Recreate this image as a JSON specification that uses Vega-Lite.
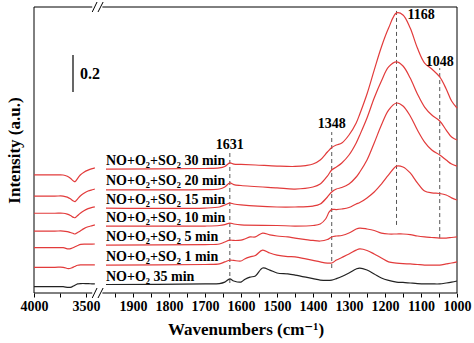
{
  "$schema": "https://vega.github.io/schema/vega-lite/v6.json",
  "width": 423,
  "height": 286,
  "autosize": {"type": "none"},
  "padding": {"left": 34, "top": 7, "right": 17, "bottom": 50},
  "background": "white",
  "config": {"view": {"stroke": null}, "font": "'Liberation Serif', 'DejaVu Serif', serif"},
  "datasets": {
    "frame": [
      {"wn": 4000, "wn2": 4000, "a": 0, "a2": 1.546},
      {"wn": 1000, "wn2": 1000, "a": 0, "a2": 1.546},
      {"wn": 4000, "wn2": 3440, "a": 0, "a2": 0},
      {"wn": 1985, "wn2": 1000, "a": 0, "a2": 0},
      {"wn": 4000, "wn2": 3440, "a": 1.546, "a2": 1.546},
      {"wn": 1985, "wn2": 1000, "a": 1.546, "a2": 1.546},
      {"wn": 3440, "wn2": 3250, "a": -0.027, "a2": 0.027},
      {"wn": 3020, "wn2": 1983, "a": -0.027, "a2": 0.027},
      {"wn": 3440, "wn2": 3250, "a": 1.519, "a2": 1.573},
      {"wn": 3020, "wn2": 1983, "a": 1.519, "a2": 1.573}
    ],
    "peaks": [
      {"wn": 1631, "a": 0.054, "a2": 0.762},
      {"wn": 1348, "a": 0.135, "a2": 0.870},
      {"wn": 1168, "a": 0.368, "a2": 1.530},
      {"wn": 1048, "a": 0.297, "a2": 1.216}
    ],
    "tags": [
      {"t": "1631", "wn": 1631, "a": 0.800},
      {"t": "1348", "wn": 1348, "a": 0.914},
      {"t": "1168", "wn": 1168, "a": 1.503},
      {"t": "1048", "wn": 1048, "a": 1.249}
    ],
    "bar": [{"wn": 3625, "a": 1.086, "a2": 1.286, "t": "0.2", "ta": 1.184, "twn": 3558}],
    "names": [
      {"s": "30", "name": "NO+O₂+SO₂ 30 min", "wn": 1975, "a": 0.714},
      {"s": "20", "name": "NO+O₂+SO₂ 20 min", "wn": 1975, "a": 0.605},
      {"s": "15", "name": "NO+O₂+SO₂ 15 min", "wn": 1975, "a": 0.503},
      {"s": "10", "name": "NO+O₂+SO₂ 10 min", "wn": 1975, "a": 0.405},
      {"s": "5", "name": "NO+O₂+SO₂ 5 min", "wn": 1975, "a": 0.303},
      {"s": "1", "name": "NO+O₂+SO₂ 1 min", "wn": 1975, "a": 0.195},
      {"s": "0", "name": "NO+O₂ 35 min", "wn": 1975, "a": 0.086}
    ],
    "spectra": [
      {"s":"0","g":"L","wn":4000,"a":0.034},{"s":"0","g":"L","wn":3800,"a":0.034},{"s":"0","g":"L","wn":3720,"a":0.034},{"s":"0","g":"L","wn":3670,"a":0.030},{"s":"0","g":"L","wn":3640,"a":0.032},{"s":"0","g":"L","wn":3610,"a":0.041},{"s":"0","g":"L","wn":3580,"a":0.049},{"s":"0","g":"L","wn":3550,"a":0.051},{"s":"0","g":"L","wn":3500,"a":0.051},{"s":"0","g":"L","wn":3460,"a":0.050},{"s":"0","g":"L","wn":3415,"a":0.049},
      {"s":"1","g":"L","wn":4000,"a":0.139},{"s":"1","g":"L","wn":3800,"a":0.139},{"s":"1","g":"L","wn":3720,"a":0.139},{"s":"1","g":"L","wn":3670,"a":0.132},{"s":"1","g":"L","wn":3640,"a":0.135},{"s":"1","g":"L","wn":3610,"a":0.143},{"s":"1","g":"L","wn":3580,"a":0.150},{"s":"1","g":"L","wn":3550,"a":0.152},{"s":"1","g":"L","wn":3500,"a":0.152},{"s":"1","g":"L","wn":3460,"a":0.152},{"s":"1","g":"L","wn":3415,"a":0.152},
      {"s":"5","g":"L","wn":4000,"a":0.245},{"s":"5","g":"L","wn":3800,"a":0.245},{"s":"5","g":"L","wn":3720,"a":0.245},{"s":"5","g":"L","wn":3670,"a":0.238},{"s":"5","g":"L","wn":3640,"a":0.241},{"s":"5","g":"L","wn":3610,"a":0.249},{"s":"5","g":"L","wn":3580,"a":0.257},{"s":"5","g":"L","wn":3550,"a":0.263},{"s":"5","g":"L","wn":3500,"a":0.264},{"s":"5","g":"L","wn":3460,"a":0.264},{"s":"5","g":"L","wn":3415,"a":0.265},
      {"s":"10","g":"L","wn":4000,"a":0.335},{"s":"10","g":"L","wn":3800,"a":0.335},{"s":"10","g":"L","wn":3720,"a":0.335},{"s":"10","g":"L","wn":3680,"a":0.332},{"s":"10","g":"L","wn":3650,"a":0.327},{"s":"10","g":"L","wn":3620,"a":0.321},{"s":"10","g":"L","wn":3605,"a":0.319},{"s":"10","g":"L","wn":3580,"a":0.327},{"s":"10","g":"L","wn":3555,"a":0.335},{"s":"10","g":"L","wn":3520,"a":0.348},{"s":"10","g":"L","wn":3480,"a":0.358},{"s":"10","g":"L","wn":3440,"a":0.364},{"s":"10","g":"L","wn":3415,"a":0.368},
      {"s":"15","g":"L","wn":4000,"a":0.431},{"s":"15","g":"L","wn":3800,"a":0.431},{"s":"15","g":"L","wn":3720,"a":0.431},{"s":"15","g":"L","wn":3680,"a":0.426},{"s":"15","g":"L","wn":3650,"a":0.419},{"s":"15","g":"L","wn":3620,"a":0.409},{"s":"15","g":"L","wn":3605,"a":0.407},{"s":"15","g":"L","wn":3580,"a":0.419},{"s":"15","g":"L","wn":3555,"a":0.431},{"s":"15","g":"L","wn":3520,"a":0.445},{"s":"15","g":"L","wn":3480,"a":0.456},{"s":"15","g":"L","wn":3440,"a":0.463},{"s":"15","g":"L","wn":3415,"a":0.466},
      {"s":"20","g":"L","wn":4000,"a":0.524},{"s":"20","g":"L","wn":3800,"a":0.524},{"s":"20","g":"L","wn":3720,"a":0.524},{"s":"20","g":"L","wn":3680,"a":0.518},{"s":"20","g":"L","wn":3650,"a":0.509},{"s":"20","g":"L","wn":3620,"a":0.497},{"s":"20","g":"L","wn":3605,"a":0.494},{"s":"20","g":"L","wn":3580,"a":0.509},{"s":"20","g":"L","wn":3555,"a":0.524},{"s":"20","g":"L","wn":3520,"a":0.539},{"s":"20","g":"L","wn":3480,"a":0.551},{"s":"20","g":"L","wn":3440,"a":0.558},{"s":"20","g":"L","wn":3415,"a":0.562},
      {"s":"30","g":"L","wn":4000,"a":0.638},{"s":"30","g":"L","wn":3800,"a":0.638},{"s":"30","g":"L","wn":3720,"a":0.638},{"s":"30","g":"L","wn":3680,"a":0.631},{"s":"30","g":"L","wn":3650,"a":0.620},{"s":"30","g":"L","wn":3620,"a":0.605},{"s":"30","g":"L","wn":3605,"a":0.602},{"s":"30","g":"L","wn":3580,"a":0.620},{"s":"30","g":"L","wn":3555,"a":0.638},{"s":"30","g":"L","wn":3520,"a":0.653},{"s":"30","g":"L","wn":3480,"a":0.664},{"s":"30","g":"L","wn":3440,"a":0.672},{"s":"30","g":"L","wn":3415,"a":0.676},

      {"s":"0","g":"R","wn":1975,"a":0.046},{"s":"0","g":"R","wn":1700,"a":0.049},{"s":"0","g":"R","wn":1660,"a":0.051},{"s":"0","g":"R","wn":1645,"a":0.059},{"s":"0","g":"R","wn":1631,"a":0.076},{"s":"0","g":"R","wn":1620,"a":0.065},{"s":"0","g":"R","wn":1600,"a":0.059},{"s":"0","g":"R","wn":1590,"a":0.073},{"s":"0","g":"R","wn":1575,"a":0.086},{"s":"0","g":"R","wn":1560,"a":0.092},{"s":"0","g":"R","wn":1540,"a":0.135},{"s":"0","g":"R","wn":1520,"a":0.124},{"s":"0","g":"R","wn":1500,"a":0.108},{"s":"0","g":"R","wn":1470,"a":0.103},{"s":"0","g":"R","wn":1450,"a":0.097},{"s":"0","g":"R","wn":1420,"a":0.086},{"s":"0","g":"R","wn":1400,"a":0.078},{"s":"0","g":"R","wn":1380,"a":0.070},{"s":"0","g":"R","wn":1360,"a":0.068},{"s":"0","g":"R","wn":1348,"a":0.070},{"s":"0","g":"R","wn":1335,"a":0.078},{"s":"0","g":"R","wn":1320,"a":0.089},{"s":"0","g":"R","wn":1300,"a":0.108},{"s":"0","g":"R","wn":1280,"a":0.130},{"s":"0","g":"R","wn":1270,"a":0.135},{"s":"0","g":"R","wn":1250,"a":0.124},{"s":"0","g":"R","wn":1230,"a":0.103},{"s":"0","g":"R","wn":1210,"a":0.081},{"s":"0","g":"R","wn":1190,"a":0.068},{"s":"0","g":"R","wn":1168,"a":0.059},{"s":"0","g":"R","wn":1150,"a":0.057},{"s":"0","g":"R","wn":1130,"a":0.054},{"s":"0","g":"R","wn":1110,"a":0.051},{"s":"0","g":"R","wn":1090,"a":0.049},{"s":"0","g":"R","wn":1070,"a":0.049},{"s":"0","g":"R","wn":1048,"a":0.049},{"s":"0","g":"R","wn":1030,"a":0.054},{"s":"0","g":"R","wn":1015,"a":0.059},{"s":"0","g":"R","wn":1000,"a":0.065},

      {"s":"1","g":"R","wn":1975,"a":0.151},{"s":"1","g":"R","wn":1700,"a":0.154},{"s":"1","g":"R","wn":1660,"a":0.157},{"s":"1","g":"R","wn":1645,"a":0.168},{"s":"1","g":"R","wn":1631,"a":0.178},{"s":"1","g":"R","wn":1620,"a":0.176},{"s":"1","g":"R","wn":1600,"a":0.173},{"s":"1","g":"R","wn":1590,"a":0.184},{"s":"1","g":"R","wn":1575,"a":0.195},{"s":"1","g":"R","wn":1560,"a":0.203},{"s":"1","g":"R","wn":1540,"a":0.232},{"s":"1","g":"R","wn":1520,"a":0.216},{"s":"1","g":"R","wn":1500,"a":0.205},{"s":"1","g":"R","wn":1470,"a":0.197},{"s":"1","g":"R","wn":1450,"a":0.195},{"s":"1","g":"R","wn":1420,"a":0.184},{"s":"1","g":"R","wn":1400,"a":0.176},{"s":"1","g":"R","wn":1380,"a":0.168},{"s":"1","g":"R","wn":1360,"a":0.162},{"s":"1","g":"R","wn":1348,"a":0.162},{"s":"1","g":"R","wn":1335,"a":0.178},{"s":"1","g":"R","wn":1320,"a":0.192},{"s":"1","g":"R","wn":1300,"a":0.211},{"s":"1","g":"R","wn":1280,"a":0.232},{"s":"1","g":"R","wn":1270,"a":0.238},{"s":"1","g":"R","wn":1250,"a":0.230},{"s":"1","g":"R","wn":1230,"a":0.211},{"s":"1","g":"R","wn":1210,"a":0.189},{"s":"1","g":"R","wn":1190,"a":0.168},{"s":"1","g":"R","wn":1168,"a":0.162},{"s":"1","g":"R","wn":1150,"a":0.159},{"s":"1","g":"R","wn":1130,"a":0.157},{"s":"1","g":"R","wn":1110,"a":0.154},{"s":"1","g":"R","wn":1090,"a":0.151},{"s":"1","g":"R","wn":1070,"a":0.151},{"s":"1","g":"R","wn":1048,"a":0.151},{"s":"1","g":"R","wn":1030,"a":0.157},{"s":"1","g":"R","wn":1015,"a":0.162},{"s":"1","g":"R","wn":1000,"a":0.168},

      {"s":"5","g":"R","wn":1975,"a":0.259},{"s":"5","g":"R","wn":1700,"a":0.262},{"s":"5","g":"R","wn":1660,"a":0.265},{"s":"5","g":"R","wn":1645,"a":0.276},{"s":"5","g":"R","wn":1631,"a":0.286},{"s":"5","g":"R","wn":1620,"a":0.284},{"s":"5","g":"R","wn":1600,"a":0.286},{"s":"5","g":"R","wn":1590,"a":0.292},{"s":"5","g":"R","wn":1575,"a":0.303},{"s":"5","g":"R","wn":1560,"a":0.303},{"s":"5","g":"R","wn":1540,"a":0.324},{"s":"5","g":"R","wn":1520,"a":0.314},{"s":"5","g":"R","wn":1500,"a":0.308},{"s":"5","g":"R","wn":1470,"a":0.303},{"s":"5","g":"R","wn":1450,"a":0.297},{"s":"5","g":"R","wn":1420,"a":0.289},{"s":"5","g":"R","wn":1400,"a":0.284},{"s":"5","g":"R","wn":1380,"a":0.281},{"s":"5","g":"R","wn":1360,"a":0.289},{"s":"5","g":"R","wn":1348,"a":0.303},{"s":"5","g":"R","wn":1335,"a":0.308},{"s":"5","g":"R","wn":1320,"a":0.311},{"s":"5","g":"R","wn":1300,"a":0.324},{"s":"5","g":"R","wn":1280,"a":0.346},{"s":"5","g":"R","wn":1270,"a":0.351},{"s":"5","g":"R","wn":1250,"a":0.346},{"s":"5","g":"R","wn":1230,"a":0.338},{"s":"5","g":"R","wn":1210,"a":0.324},{"s":"5","g":"R","wn":1190,"a":0.319},{"s":"5","g":"R","wn":1168,"a":0.319},{"s":"5","g":"R","wn":1150,"a":0.319},{"s":"5","g":"R","wn":1130,"a":0.316},{"s":"5","g":"R","wn":1110,"a":0.308},{"s":"5","g":"R","wn":1090,"a":0.303},{"s":"5","g":"R","wn":1070,"a":0.300},{"s":"5","g":"R","wn":1048,"a":0.297},{"s":"5","g":"R","wn":1030,"a":0.297},{"s":"5","g":"R","wn":1015,"a":0.300},{"s":"5","g":"R","wn":1000,"a":0.303},

      {"s":"10","g":"R","wn":1975,"a":0.362},{"s":"10","g":"R","wn":1700,"a":0.362},{"s":"10","g":"R","wn":1660,"a":0.365},{"s":"10","g":"R","wn":1645,"a":0.370},{"s":"10","g":"R","wn":1631,"a":0.378},{"s":"10","g":"R","wn":1620,"a":0.373},{"s":"10","g":"R","wn":1600,"a":0.368},{"s":"10","g":"R","wn":1500,"a":0.365},{"s":"10","g":"R","wn":1450,"a":0.362},{"s":"10","g":"R","wn":1400,"a":0.365},{"s":"10","g":"R","wn":1380,"a":0.373},{"s":"10","g":"R","wn":1365,"a":0.400},{"s":"10","g":"R","wn":1355,"a":0.438},{"s":"10","g":"R","wn":1348,"a":0.451},{"s":"10","g":"R","wn":1335,"a":0.451},{"s":"10","g":"R","wn":1320,"a":0.454},{"s":"10","g":"R","wn":1300,"a":0.462},{"s":"10","g":"R","wn":1280,"a":0.481},{"s":"10","g":"R","wn":1270,"a":0.489},{"s":"10","g":"R","wn":1250,"a":0.514},{"s":"10","g":"R","wn":1230,"a":0.546},{"s":"10","g":"R","wn":1210,"a":0.589},{"s":"10","g":"R","wn":1190,"a":0.638},{"s":"10","g":"R","wn":1168,"a":0.686},{"s":"10","g":"R","wn":1150,"a":0.681},{"s":"10","g":"R","wn":1130,"a":0.649},{"s":"10","g":"R","wn":1110,"a":0.595},{"s":"10","g":"R","wn":1090,"a":0.551},{"s":"10","g":"R","wn":1070,"a":0.541},{"s":"10","g":"R","wn":1048,"a":0.538},{"s":"10","g":"R","wn":1030,"a":0.530},{"s":"10","g":"R","wn":1015,"a":0.514},{"s":"10","g":"R","wn":1000,"a":0.503},

      {"s":"15","g":"R","wn":1975,"a":0.459},{"s":"15","g":"R","wn":1700,"a":0.459},{"s":"15","g":"R","wn":1660,"a":0.465},{"s":"15","g":"R","wn":1645,"a":0.476},{"s":"15","g":"R","wn":1631,"a":0.486},{"s":"15","g":"R","wn":1620,"a":0.481},{"s":"15","g":"R","wn":1600,"a":0.476},{"s":"15","g":"R","wn":1500,"a":0.465},{"s":"15","g":"R","wn":1450,"a":0.465},{"s":"15","g":"R","wn":1400,"a":0.470},{"s":"15","g":"R","wn":1380,"a":0.481},{"s":"15","g":"R","wn":1360,"a":0.519},{"s":"15","g":"R","wn":1348,"a":0.546},{"s":"15","g":"R","wn":1335,"a":0.562},{"s":"15","g":"R","wn":1320,"a":0.570},{"s":"15","g":"R","wn":1300,"a":0.589},{"s":"15","g":"R","wn":1280,"a":0.627},{"s":"15","g":"R","wn":1270,"a":0.654},{"s":"15","g":"R","wn":1250,"a":0.719},{"s":"15","g":"R","wn":1230,"a":0.811},{"s":"15","g":"R","wn":1210,"a":0.908},{"s":"15","g":"R","wn":1190,"a":0.989},{"s":"15","g":"R","wn":1168,"a":1.027},{"s":"15","g":"R","wn":1150,"a":1.011},{"s":"15","g":"R","wn":1130,"a":0.957},{"s":"15","g":"R","wn":1110,"a":0.881},{"s":"15","g":"R","wn":1090,"a":0.816},{"s":"15","g":"R","wn":1070,"a":0.773},{"s":"15","g":"R","wn":1048,"a":0.746},{"s":"15","g":"R","wn":1030,"a":0.719},{"s":"15","g":"R","wn":1015,"a":0.697},{"s":"15","g":"R","wn":1000,"a":0.686},

      {"s":"20","g":"R","wn":1975,"a":0.557},{"s":"20","g":"R","wn":1700,"a":0.559},{"s":"20","g":"R","wn":1660,"a":0.562},{"s":"20","g":"R","wn":1645,"a":0.573},{"s":"20","g":"R","wn":1631,"a":0.595},{"s":"20","g":"R","wn":1620,"a":0.586},{"s":"20","g":"R","wn":1600,"a":0.581},{"s":"20","g":"R","wn":1500,"a":0.568},{"s":"20","g":"R","wn":1450,"a":0.562},{"s":"20","g":"R","wn":1400,"a":0.573},{"s":"20","g":"R","wn":1380,"a":0.589},{"s":"20","g":"R","wn":1360,"a":0.632},{"s":"20","g":"R","wn":1348,"a":0.665},{"s":"20","g":"R","wn":1335,"a":0.681},{"s":"20","g":"R","wn":1320,"a":0.703},{"s":"20","g":"R","wn":1300,"a":0.746},{"s":"20","g":"R","wn":1280,"a":0.811},{"s":"20","g":"R","wn":1270,"a":0.854},{"s":"20","g":"R","wn":1250,"a":0.946},{"s":"20","g":"R","wn":1230,"a":1.054},{"s":"20","g":"R","wn":1210,"a":1.146},{"s":"20","g":"R","wn":1190,"a":1.222},{"s":"20","g":"R","wn":1168,"a":1.249},{"s":"20","g":"R","wn":1150,"a":1.227},{"s":"20","g":"R","wn":1130,"a":1.162},{"s":"20","g":"R","wn":1110,"a":1.076},{"s":"20","g":"R","wn":1090,"a":1.005},{"s":"20","g":"R","wn":1070,"a":0.962},{"s":"20","g":"R","wn":1048,"a":0.930},{"s":"20","g":"R","wn":1030,"a":0.881},{"s":"20","g":"R","wn":1015,"a":0.843},{"s":"20","g":"R","wn":1000,"a":0.827},

      {"s":"30","g":"R","wn":1975,"a":0.670},{"s":"30","g":"R","wn":1700,"a":0.673},{"s":"30","g":"R","wn":1660,"a":0.676},{"s":"30","g":"R","wn":1645,"a":0.684},{"s":"30","g":"R","wn":1631,"a":0.703},{"s":"30","g":"R","wn":1620,"a":0.697},{"s":"30","g":"R","wn":1600,"a":0.695},{"s":"30","g":"R","wn":1560,"a":0.692},{"s":"30","g":"R","wn":1500,"a":0.686},{"s":"30","g":"R","wn":1450,"a":0.684},{"s":"30","g":"R","wn":1420,"a":0.689},{"s":"30","g":"R","wn":1400,"a":0.697},{"s":"30","g":"R","wn":1380,"a":0.719},{"s":"30","g":"R","wn":1360,"a":0.762},{"s":"30","g":"R","wn":1348,"a":0.786},{"s":"30","g":"R","wn":1335,"a":0.800},{"s":"30","g":"R","wn":1320,"a":0.811},{"s":"30","g":"R","wn":1300,"a":0.854},{"s":"30","g":"R","wn":1280,"a":0.919},{"s":"30","g":"R","wn":1270,"a":0.968},{"s":"30","g":"R","wn":1250,"a":1.076},{"s":"30","g":"R","wn":1230,"a":1.205},{"s":"30","g":"R","wn":1210,"a":1.330},{"s":"30","g":"R","wn":1190,"a":1.432},{"s":"30","g":"R","wn":1168,"a":1.514},{"s":"30","g":"R","wn":1150,"a":1.503},{"s":"30","g":"R","wn":1130,"a":1.432},{"s":"30","g":"R","wn":1110,"a":1.324},{"s":"30","g":"R","wn":1090,"a":1.243},{"s":"30","g":"R","wn":1070,"a":1.211},{"s":"30","g":"R","wn":1048,"a":1.168},{"s":"30","g":"R","wn":1030,"a":1.103},{"s":"30","g":"R","wn":1015,"a":1.038},{"s":"30","g":"R","wn":1000,"a":1.000}
    ]
  },
  "encoding": {
    "x": {
      "field": "wn",
      "type": "quantitative",
      "scale": {"domain": [4000, 3400, 1985, 1000], "range": [0, 62.4, 68.4, 423], "nice": false, "zero": false},
      "axis": {
        "title": "Wavenumbers (cm⁻¹)",
        "values": [4000, 3750, 3500, 1950, 1900, 1850, 1800, 1750, 1700, 1650, 1600, 1550, 1500, 1450, 1400, 1350, 1300, 1250, 1200, 1150, 1100, 1050, 1000],
        "format": "d",
        "labelExpr": "datum.value % 100 == 0 ? datum.label : ''",
        "domain": false,
        "grid": false,
        "ticks": true,
        "tickSize": 4,
        "tickColor": "#000",
        "tickWidth": 1,
        "labelFont": "'Liberation Serif', 'DejaVu Serif', serif",
        "labelFontWeight": "bold",
        "labelFontSize": 14,
        "labelColor": "#000",
        "labelPadding": 2,
        "labelFlush": false,
        "labelOverlap": false,
        "titleFont": "'Liberation Serif', 'DejaVu Serif', serif",
        "titleFontSize": 17,
        "titleFontWeight": "bold",
        "titleColor": "#000",
        "titleY": 36,
        "titleBaseline": "middle"
      }
    },
    "y": {
      "field": "a",
      "type": "quantitative",
      "scale": {"domain": [0, 1.546], "nice": false, "zero": false},
      "axis": {
        "title": "Intensity (a.u.)",
        "domain": false,
        "ticks": false,
        "labels": false,
        "grid": false,
        "titleFont": "'Liberation Serif', 'DejaVu Serif', serif",
        "titleFontSize": 17,
        "titleFontWeight": "bold",
        "titleColor": "#000",
        "titleX": -20,
        "titleY": 143,
        "titleAlign": "center",
        "titleBaseline": "middle"
      }
    }
  },
  "layer": [
    {
      "data": {"name": "frame"},
      "mark": {"type": "rule", "color": "#000", "strokeWidth": 1},
      "encoding": {"x2": {"field": "wn2"}, "y2": {"field": "a2"}}
    },
    {
      "data": {"name": "peaks"},
      "mark": {"type": "rule", "color": "#555", "strokeWidth": 1, "strokeDash": [4, 3]},
      "encoding": {"y2": {"field": "a2"}}
    },
    {
      "data": {"name": "spectra"},
      "mark": {"type": "line", "interpolate": "catmull-rom", "strokeWidth": 1.2},
      "encoding": {
        "color": {
          "field": "s",
          "type": "nominal",
          "scale": {"domain": ["30", "20", "15", "10", "5", "1", "0"], "range": ["#e23b3b", "#e23b3b", "#e23b3b", "#e23b3b", "#e23b3b", "#e23b3b", "#222222"]},
          "legend": null
        },
        "detail": {"field": "g"}
      }
    },
    {
      "data": {"name": "names"},
      "mark": {"type": "text", "align": "left", "baseline": "middle", "font": "'Liberation Serif', 'DejaVu Serif', serif", "fontWeight": "bold", "fontSize": 14, "color": "#000"},
      "encoding": {"text": {"field": "name"}}
    },
    {
      "data": {"name": "tags"},
      "transform": [{"filter": "datum.t != '1168'"}],
      "mark": {"type": "text", "align": "center", "baseline": "middle", "font": "'Liberation Serif', 'DejaVu Serif', serif", "fontWeight": "bold", "fontSize": 14, "color": "#000"},
      "encoding": {"text": {"field": "t"}}
    },
    {
      "data": {"name": "tags"},
      "transform": [{"filter": "datum.t == '1168'"}],
      "mark": {"type": "text", "align": "left", "baseline": "middle", "dx": 11, "font": "'Liberation Serif', 'DejaVu Serif', serif", "fontWeight": "bold", "fontSize": 14, "color": "#000"},
      "encoding": {"text": {"field": "t"}}
    },
    {
      "data": {"name": "bar"},
      "mark": {"type": "rule", "color": "#000", "strokeWidth": 1.2},
      "encoding": {"y2": {"field": "a2"}}
    },
    {
      "data": {"name": "bar"},
      "mark": {"type": "text", "align": "left", "baseline": "middle", "font": "'Liberation Serif', 'DejaVu Serif', serif", "fontWeight": "bold", "fontSize": 16, "color": "#000"},
      "encoding": {
        "x": {"field": "twn", "type": "quantitative", "title": "Wavenumbers (cm⁻¹)"},
        "y": {"field": "ta", "type": "quantitative", "title": "Intensity (a.u.)"},
        "text": {"field": "t"}
      }
    }
  ]
}
